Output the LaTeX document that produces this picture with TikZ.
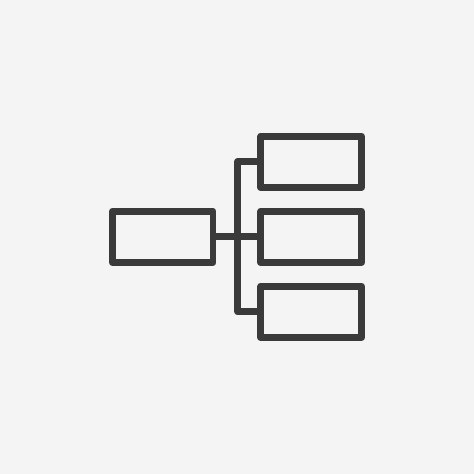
\documentclass[tikz,border=0pt]{standalone}
\usepackage{tikz}
\usetikzlibrary{positioning}

\begin{document}
\begin{tikzpicture}[x=1pt,y=1pt,on grid,node distance=75pt and 148.5pt,line width=6.8pt,line join=round]
\tikzset{box/.style={draw=iconfill,rectangle,minimum width=100.7pt,minimum height=51.3pt,inner sep=0pt}}
\definecolor{iconfill}{HTML}{3A3A3A}
\definecolor{backfill}{HTML}{F4F4F4}
  \fill[backfill] (0,0) rectangle (474,474);
  \useasboundingbox (0,0) rectangle (474,474);
  \node[box] (root) at (162.7,237.2) {};
  \node[box] (mid) [right=of root] {};
  \node[box] (top) [above=of mid] {};
  \node[box] (low) [below=of mid] {};
  \coordinate (fork) at (237.7,237.2);
  \draw[iconfill] (root.east) -- (mid.west);
  \draw[iconfill] (top.west) -| (fork) |- (low.west);
\end{tikzpicture}
\end{document}
